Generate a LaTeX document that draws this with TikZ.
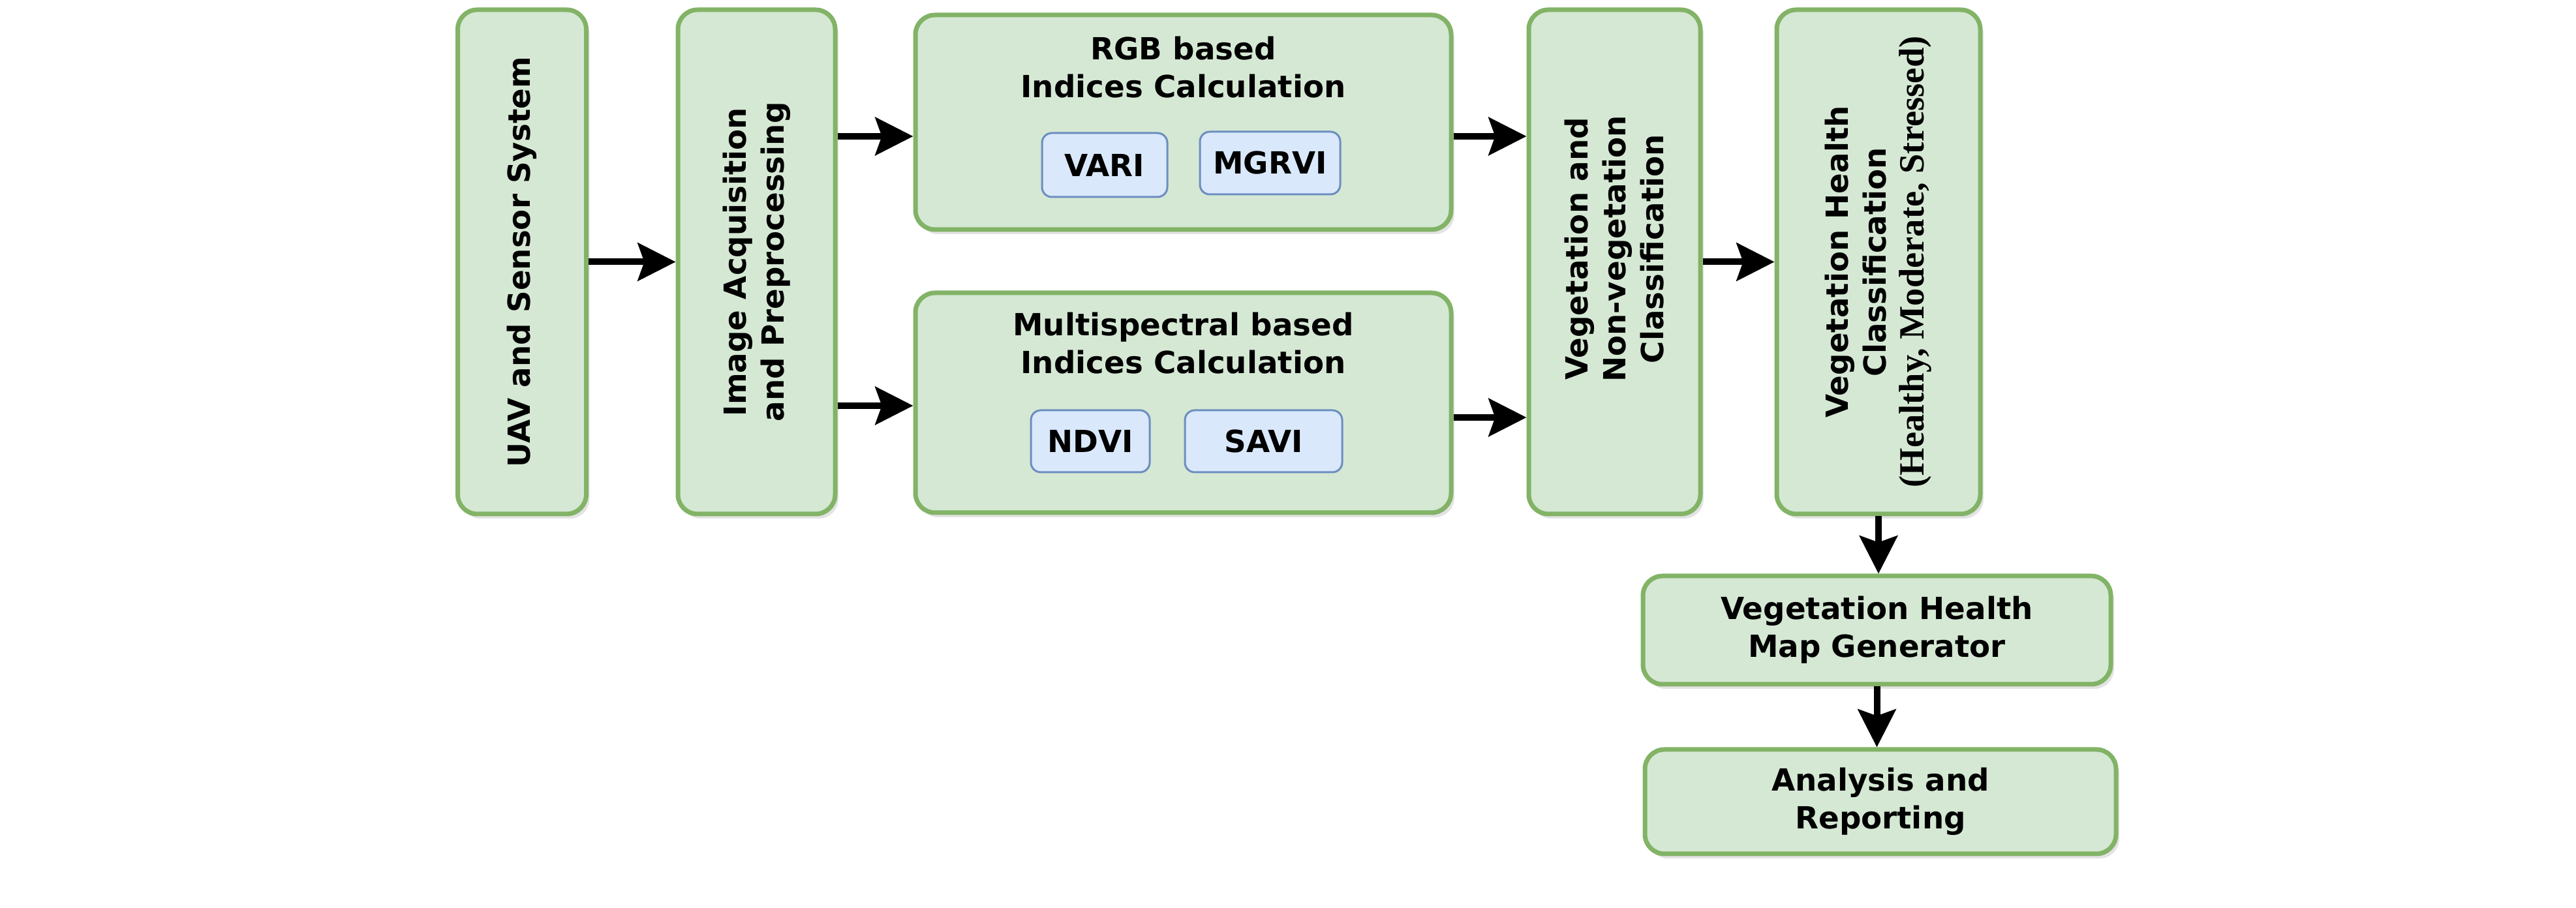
\documentclass[tikz,border=0pt]{standalone}
\usepackage{fontspec}
\setmainfont{DejaVu Sans}
\newfontfamily\serifbf{Liberation Serif}
\usetikzlibrary{arrows.meta,positioning,shadows}
\definecolor{stagefill}{HTML}{D5E8D4}
\definecolor{stageline}{HTML}{82B366}
\definecolor{idxfill}{HTML}{DAE8FC}
\definecolor{idxline}{HTML}{6C8EBF}
\newcommand{\lbl}{\fontsize{13.3pt}{16.5pt}\selectfont\bfseries}
\tikzset{
  stage/.style={draw=stageline, line width=0.07cm, fill=stagefill, rounded corners=0.3cm, inner sep=0pt,
    drop shadow={shadow xshift=0.05cm, shadow yshift=-0.07cm, opacity=0.22}},
  idx/.style={draw=idxline, line width=0.03cm, fill=idxfill, rounded corners=0.15cm, inner sep=0pt, font=\lbl},
  vtext/.style={rotate=90, align=center, inner sep=0pt, font=\lbl},
  htext/.style={align=center, inner sep=0pt, font=\lbl},
  flow/.style={line width=0.1cm, -{Stealth[length=0.58cm, width=0.58cm, inset=0.1cm]}},
}

\begin{document}
\begin{tikzpicture}
  \useasboundingbox (0,0) rectangle (39.48,13.92);

  % --- Vertical stages ---
  \node[stage, minimum width=1.97cm, minimum height=7.73cm] (uav) at (8.0,9.905) {};
  \node[stage, minimum width=2.41cm, minimum height=7.73cm] (acq) at (11.595,9.905) {};
  \node[stage, minimum width=2.63cm, minimum height=7.73cm] (veg) at (24.745,9.905) {};
  \node[stage, minimum width=3.12cm, minimum height=7.73cm] (hlt) at (28.79,9.905) {};

  \node[vtext] (uavt) at (uav) {UAV and Sensor System};
  \node[vtext] (acqt) at (acq) {Image Acquisition\\and Preprocessing};
  \node[vtext] (vegt) at ([yshift=0.2cm]veg.center) {Vegetation and\\Non-vegetation\\Classification};
  \node[vtext] (hltt) at (hlt) {Vegetation Health\\Classification\\{\serifbf\fontsize{15.5pt}{18pt}\selectfont (Healthy, Moderate, Stressed)}};

  % --- Index calculation ---
  \node[stage, minimum width=8.21cm, minimum height=3.29cm] (rgb) at (18.135,12.045) {};
  \node[stage, minimum width=8.21cm, minimum height=3.37cm] (msp) at (18.135,7.745) {};

  \node[htext, below=0.36cm of rgb.north] (rgbt) {RGB based\\Indices Calculation};
  \node[htext, below=0.33cm of msp.north] (mspt) {Multispectral based\\Indices Calculation};

  \node[idx, minimum width=1.92cm, minimum height=0.98cm] (vari) at (16.93,11.39) {VARI};
  \node[idx, minimum width=2.15cm, minimum height=0.96cm] (mgrvi) at (19.465,11.42) {MGRVI};
  \node[idx, minimum width=1.82cm, minimum height=0.95cm] (ndvi) at (16.71,7.155) {NDVI};
  \node[idx, minimum width=2.41cm, minimum height=0.95cm] (savi) at (19.365,7.155) {SAVI};

  % --- Output stages ---
  \node[stage, font=\lbl, align=center, minimum width=7.17cm, minimum height=1.66cm] (map) at (28.765,4.26)
    {Vegetation Health\hspace{0.6em}\\Map Generator};
  \node[stage, font=\lbl, align=center, minimum width=7.22cm, minimum height=1.60cm] (ana) at (28.82,1.63)
    {Analysis and\hspace{0.7em}\\Reporting};

  % --- Arrows ---
  \draw[flow] (uav) -- (acq);
  \draw[flow] ([yshift=-0.215cm]rgb.west -| acq.east) -- ([yshift=-0.215cm]rgb.west);
  \draw[flow] ([yshift=-0.045cm]msp.west -| acq.east) -- ([yshift=-0.045cm]msp.west);
  \draw[flow] ([yshift=-0.215cm]rgb.east) -- ([yshift=-0.215cm]rgb.east -| veg.west);
  \draw[flow] ([yshift=-0.225cm]msp.east) -- ([yshift=-0.225cm]msp.east -| veg.west);
  \draw[flow] (veg) -- (hlt);
  \draw[flow] (hlt) -- (hlt |- map.north);
  \draw[flow] (map) -- (map |- ana.north);
\end{tikzpicture}
\end{document}
